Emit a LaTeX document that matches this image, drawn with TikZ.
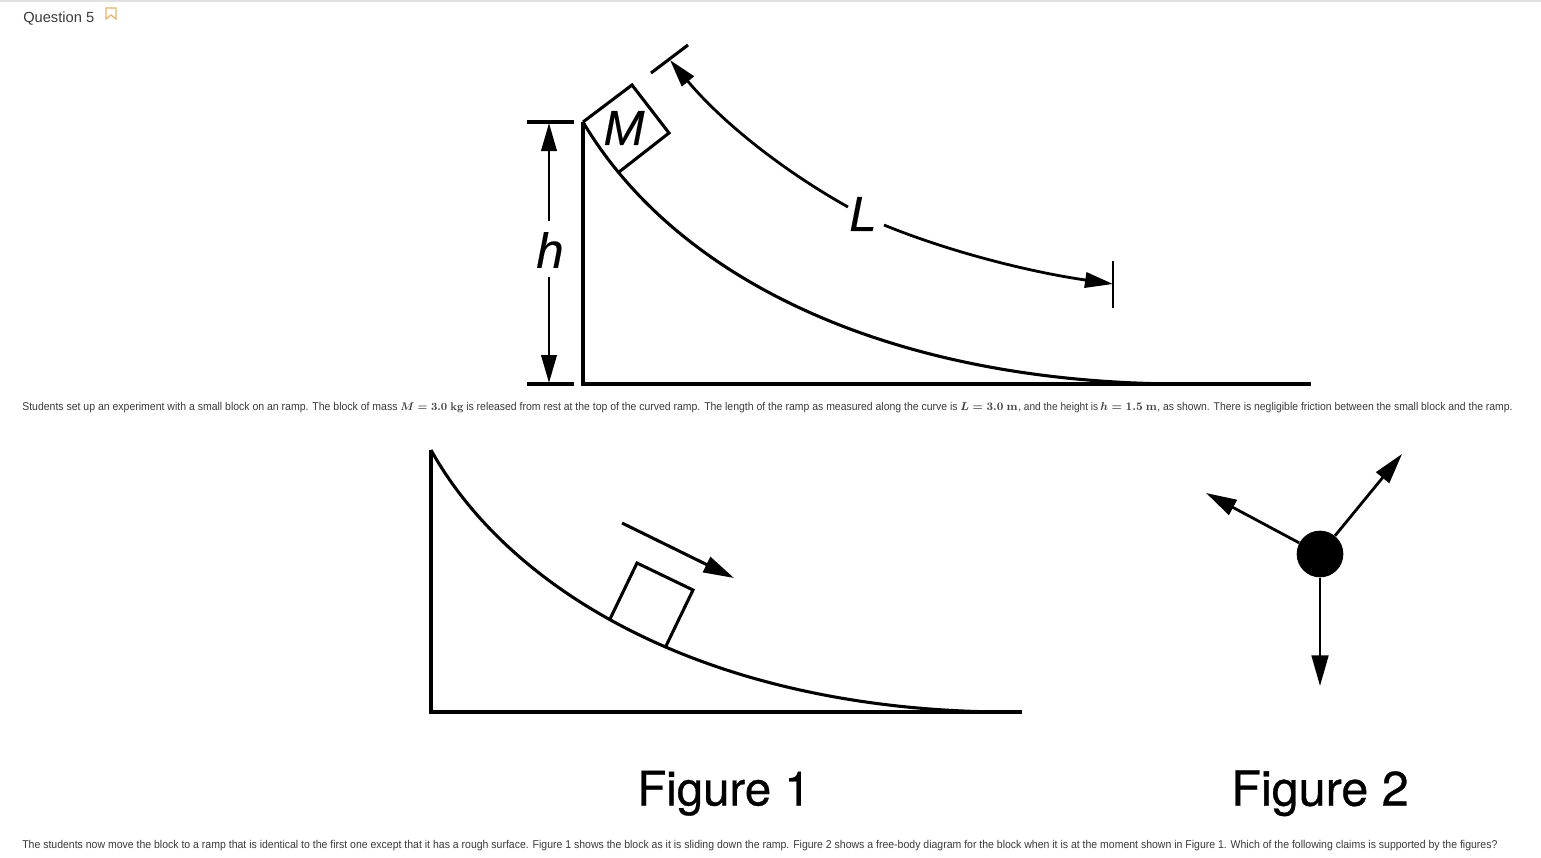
\documentclass[tikz,border=0pt]{standalone}
\usepackage[no-math]{fontspec}
\usepackage{graphicx}
\setmainfont{Liberation Sans}
\newfontfamily\heavyfont[FakeBold=0.25]{Liberation Sans}
\newfontfamily\figfont[FakeBold=0.6]{TeX Gyre Heros}
\usetikzlibrary{arrows.meta}
\newcommand{\fitw}[2]{\resizebox{#1pt}{!}{\strut #2}}
\newcommand{\tallw}[2]{\scalebox{1}[1.08]{\resizebox{#1pt}{!}{\strut #2}}}
\definecolor{bodytext}{HTML}{3A3A3A}
\definecolor{markorange}{HTML}{E8B36A}
\tikzset{
  ink/.style={line width=2.3pt,black,line cap=butt},
  thin ink/.style={line width=2.1pt,black},
  headed/.style={-{Triangle[length=21pt,width=11.5pt]}},
  bighead/.style={-{Triangle[length=23pt,width=12.5pt]}},
  bodyline/.style={inner sep=0pt,anchor=west,text=bodytext},
  figlabel/.style={inner sep=0pt,anchor=center,text=black},
  symbol/.style={inner sep=0pt,anchor=center,text=black,font=\fontsize{37pt}{37pt}\selectfont\heavyfont\itshape},
}
\begin{document}
\begin{tikzpicture}[x=0.75pt,y=-0.75pt]
\useasboundingbox (0,0) rectangle (1541,857);
\fill[white] (0,0) rectangle (1541,857);
\fill[black!12] (0,0) rectangle (1541,2);
% header
\node[bodyline,font=\fontsize{11pt}{11pt}\selectfont] (qtitle) at (23,19) {Question 5};
\draw[markorange,line width=0.9pt,line join=miter] (106,8) -- (116,8) -- (116,19) -- (111,15) -- (106,19) -- cycle;
% main figure
\coordinate (rampTop) at (583,122);
\coordinate (rampBase) at (583,384);
\coordinate (rampEnd) at (1311,384);
\coordinate (rampFoot) at (1185,384);
\draw[ink,line join=miter] (rampEnd) -- (rampBase) -- (rampTop);
\draw[ink] (rampTop) .. controls (678,282) and (895,384) .. (rampFoot);
\coordinate (b1) at (583,122);\coordinate (b2) at (632,85);\coordinate (b3) at (669,133);\coordinate (b4) at (619,172);
\draw[ink,line join=miter] (b1) -- (b2) -- (b3) -- (b4);
\node[symbol] (mlabel) at (624,128) {M};
\coordinate (hTop) at (549,123);\coordinate (hBot) at (549,383);
\coordinate (hTickTL) at (527,122);\coordinate (hTickTR) at (574,122);
\coordinate (hTickBL) at (527,384);\coordinate (hTickBR) at (574,384);
\draw[ink] (hTickTL) -- (hTickTR);
\draw[ink] (hTickBL) -- (hTickBR);
\node[symbol] (hlabel) at (550,250) {h};
\draw[thin ink,headed] (549,221) -- (hTop);
\draw[thin ink,headed] (549,277) -- (hBot);
\coordinate (LtickA) at (651,73);\coordinate (LtickB) at (688,45);
\coordinate (LtickC) at (1113,261);\coordinate (LtickD) at (1113,308);
\draw[ink] (LtickA) -- (LtickB);
\draw[line width=1.7pt] (LtickC) -- (LtickD);
\node[symbol] (Llabel) at (863,214) {L};
\draw[thin ink,headed] (848,207) .. controls (782,170) and (722,122) .. (670,60);
\draw[thin ink,headed] (884,225) .. controls (950,252) and (1030,272) .. (1113,284);
% body text 1
\node[bodyline] (t1) at (22,408) {\tallw{281.5}{Students set up an experiment with a small block on an ramp. The block of mass}};
\node[bodyline] (m1) at (400,408) {\fitw{47.5}{\boldmath$M=3.0\ \mathbf{kg}$}};
\node[bodyline] (t2) at (466,408) {\tallw{368.5}{is released from rest at the top of the curved ramp. The length of the ramp as measured along the curve is}};
\node[bodyline] (m2) at (960,408) {\fitw{43}{\boldmath$L=3.0\ \mathbf{m}$}};
\node[bodyline] (t3) at (1018,408) {\tallw{60}{, and the height is}};
\node[bodyline] (m3) at (1100,408) {\fitw{42.5}{\boldmath$h=1.5\ \mathbf{m}$}};
\node[bodyline] (t4) at (1157,408) {\tallw{266.5}{, as shown. There is negligible friction between the small block and the ramp.}};
% figure 1
\coordinate (f1Top) at (431,450);\coordinate (f1Base) at (431,712);\coordinate (f1End) at (1022,712);\coordinate (f1Foot) at (1000,712);
\draw[ink,line join=miter] (f1End) -- (f1Base) -- (f1Top);
\draw[ink] (f1Top) .. controls (510,592) and (708,709) .. (f1Foot);
\coordinate (c1) at (610,619);\coordinate (c2) at (637,563);\coordinate (c3) at (693,590);\coordinate (c4) at (666,646);
\draw[ink,line join=miter] (c1) -- (c2) -- (c3) -- (c4);
\coordinate (mvA) at (622,523);\coordinate (mvB) at (734,578);
\draw[ink,bighead] (mvA) -- (mvB);
\node[figlabel] (fig1) at (724,794) {\fitw{130}{\figfont Figure 1}};
% figure 2
\node[circle,fill=black,minimum size=35pt,inner sep=0pt] (dot) at (1320,554) {};
\coordinate (f2a) at (1402,454);\coordinate (f2b) at (1206,493);\coordinate (f2c) at (1320,686);
\draw[thin ink,bighead] (dot) -- (f2a);
\draw[thin ink,bighead] (dot) -- (f2b);
\draw[thin ink,bighead] (dot) -- (f2c);
\node[figlabel] (fig2) at (1320,794) {\fitw{133}{\figfont Figure 2}};
% body text 2
\node[bodyline] (t5) at (22,846) {\tallw{1106.5}{The students now move the block to a ramp that is identical to the first one except that it has a rough surface. Figure 1 shows the block as it is sliding down the ramp. Figure 2 shows a free-body diagram for the block when it is at the moment shown in Figure 1. Which of the following claims is supported by the figures?}};
\end{tikzpicture}
\end{document}
